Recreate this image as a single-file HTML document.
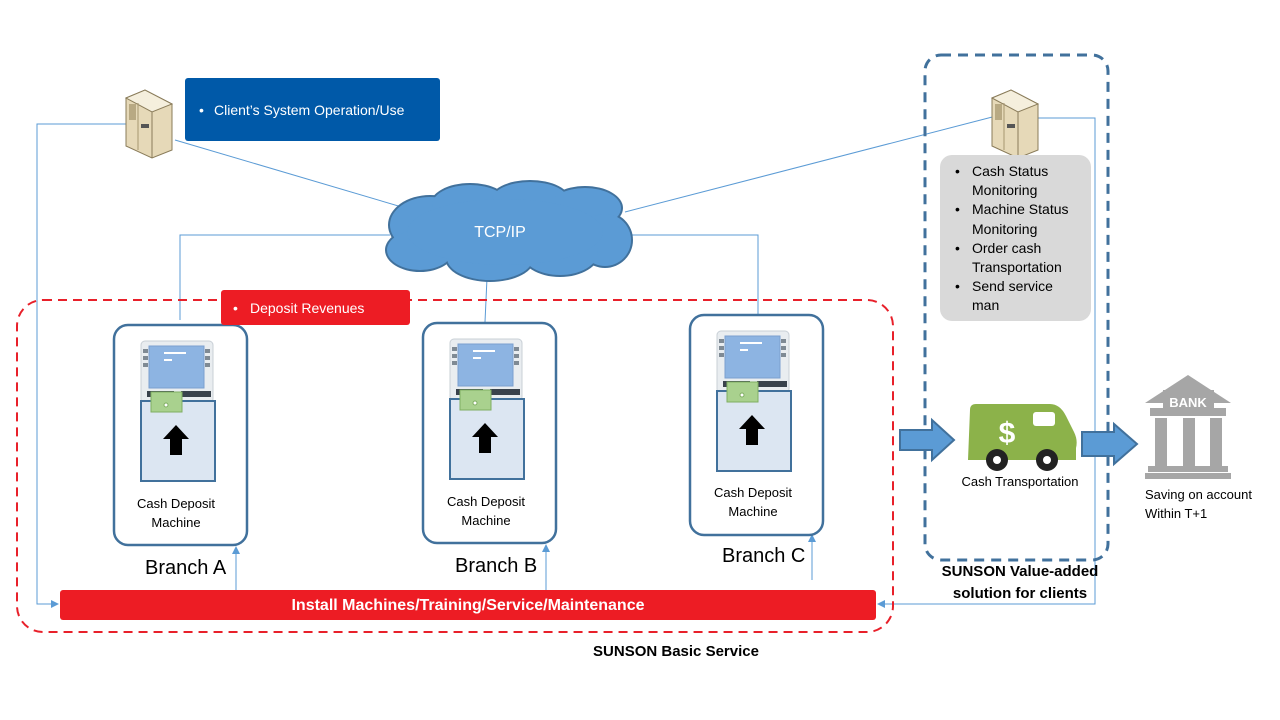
<!DOCTYPE html>
<html><head><meta charset="utf-8"><style>
html,body{margin:0;padding:0;background:#fff}
svg{display:block;font-family:"Liberation Sans",sans-serif}
</style></head><body>
<svg width="1280" height="720" viewBox="0 0 1280 720" xmlns="http://www.w3.org/2000/svg">
<defs>
<marker id="ah" markerWidth="8" markerHeight="8" refX="7" refY="4" orient="auto" markerUnits="userSpaceOnUse"><path d="M0,0 L8,4 L0,8 z" fill="#5b9bd5"/></marker>
<g id="atm">
  <rect x="0" y="0" width="133" height="220" rx="14" fill="#fff" stroke="#41719c" stroke-width="2.5"/>
  <rect x="27" y="16" width="72" height="62" rx="4" fill="#e9edf0" stroke="#c9d0d6"/>
  <rect x="35" y="21" width="55" height="42" fill="#8db4e2" stroke="#7aa0cf"/>
  <line x1="50" y1="28" x2="72" y2="28" stroke="#fff" stroke-width="2"/>
  <line x1="50" y1="35" x2="58" y2="35" stroke="#fff" stroke-width="2"/>
  <rect x="29" y="24" width="5" height="4" fill="#7f8a94"/><rect x="29" y="31" width="5" height="4" fill="#7f8a94"/><rect x="29" y="38" width="5" height="4" fill="#7f8a94"/>
  <rect x="91" y="24" width="5" height="4" fill="#7f8a94"/><rect x="91" y="31" width="5" height="4" fill="#7f8a94"/><rect x="91" y="38" width="5" height="4" fill="#7f8a94"/>
  <rect x="33" y="66" width="27" height="6" fill="#39424c"/><rect x="67" y="66" width="30" height="6" fill="#39424c"/>
  <rect x="27" y="76" width="74" height="80" fill="#dce6f2" stroke="#41719c" stroke-width="2"/>
  <rect x="37" y="67" width="31" height="20" fill="#a9d18e" stroke="#7fae62"/>
  <circle cx="52" cy="80" r="2" fill="#fff" stroke="#7fae62"/>
  <path d="M62,100 L75,114 L68,114 L68,130 L56,130 L56,114 L49,114 z" fill="#000"/>
</g>
</defs>

<g stroke="#5b9bd5" stroke-width="1" fill="none">
  <line x1="175" y1="140" x2="412" y2="210"/>
  <line x1="1000" y1="115" x2="625" y2="212"/>
  <polyline points="390,235 180,235 180,320"/>
  <polyline points="600,235 758,235 758,315"/>
  <line x1="487" y1="278" x2="485" y2="322"/>
  <polyline points="130,124 37,124 37,604 58,604" marker-end="url(#ah)"/>
  <polyline points="1022,118 1095,118 1095,604 878,604" marker-end="url(#ah)"/>
  <line x1="236" y1="590" x2="236" y2="547" marker-end="url(#ah)"/>
  <line x1="546" y1="590" x2="546" y2="545" marker-end="url(#ah)"/>
  <line x1="812" y1="580" x2="812" y2="535" marker-end="url(#ah)"/>
</g>

<rect x="17" y="300" width="876" height="332" rx="26" fill="none" stroke="#e8202a" stroke-width="2" stroke-dasharray="9,6"/>
<rect x="925" y="55" width="183" height="505" rx="16" fill="none" stroke="#41719c" stroke-width="3" stroke-dasharray="10,7"/>

<g>
  <g fill="#41719c">
    <ellipse cx="430" cy="225" rx="42" ry="30"/><ellipse cx="470" cy="205" rx="40" ry="22"/><ellipse cx="530" cy="200" rx="40" ry="20"/>
    <ellipse cx="585" cy="208" rx="38" ry="22"/><ellipse cx="605" cy="240" rx="28" ry="28"/><ellipse cx="560" cy="252" rx="40" ry="25"/>
    <ellipse cx="490" cy="258" rx="45" ry="24"/><ellipse cx="420" cy="250" rx="35" ry="22"/><ellipse cx="505" cy="232" rx="100" ry="35"/>
  </g>
  <g fill="#5b9bd5">
    <ellipse cx="430" cy="225" rx="40" ry="28"/><ellipse cx="470" cy="205" rx="38" ry="20"/><ellipse cx="530" cy="200" rx="38" ry="18"/>
    <ellipse cx="585" cy="208" rx="36" ry="20"/><ellipse cx="605" cy="240" rx="26" ry="26"/><ellipse cx="560" cy="252" rx="38" ry="23"/>
    <ellipse cx="490" cy="258" rx="43" ry="22"/><ellipse cx="420" cy="250" rx="33" ry="20"/><ellipse cx="505" cy="232" rx="98" ry="33"/>
  </g>
  <text x="500" y="237" font-size="16" fill="#fff" text-anchor="middle">TCP/IP</text>
</g>

<g id="srv">
<path d="M126,98 L145,90 L172,104 L172,150 L152,158 L126,146 z" fill="#e6d9b8" stroke="#8a7c5a"/>
<path d="M126,98 L145,90 L172,104 L152,112 z" fill="#f5efdd" stroke="#8a7c5a"/>
<line x1="152" y1="112" x2="152" y2="158" stroke="#8a7c5a"/>
<line x1="138" y1="103" x2="138" y2="150" stroke="#a69670"/>
<rect x="129" y="104" width="7" height="16" fill="#b8a983"/>
<rect x="141" y="124" width="8" height="4" fill="#555"/>
</g>
<use href="#srv" transform="translate(866,0)"/>

<rect x="185" y="78" width="255" height="63" rx="3" fill="#0059a8"/>
<text x="199" y="115" font-size="14" fill="#fff">•</text>
<text x="214" y="115" font-size="14" fill="#fff">Client’s System Operation/Use</text>

<rect x="940" y="155" width="151" height="166" rx="12" fill="#d9d9d9"/>
<g font-size="14" fill="#000">
  <text x="955" y="176">•</text><text x="972" y="176">Cash Status</text><text x="972" y="195">Monitoring</text>
  <text x="955" y="214">•</text><text x="972" y="214">Machine Status</text><text x="972" y="234">Monitoring</text>
  <text x="955" y="253">•</text><text x="972" y="253">Order cash</text><text x="972" y="272">Transportation</text>
  <text x="955" y="291">•</text><text x="972" y="291">Send service</text><text x="972" y="310">man</text>
</g>

<use href="#atm" transform="translate(114,325)"/>
<use href="#atm" transform="translate(423,323)"/>
<use href="#atm" transform="translate(690,315)"/>
<g font-size="13" text-anchor="middle" fill="#000">
  <text x="176" y="508">Cash Deposit</text><text x="176" y="527">Machine</text>
  <text x="486" y="506">Cash Deposit</text><text x="486" y="525">Machine</text>
  <text x="753" y="497">Cash Deposit</text><text x="753" y="516">Machine</text>
</g>
<g font-size="20" fill="#000">
  <text x="145" y="574">Branch A</text><text x="455" y="572">Branch B</text><text x="722" y="562">Branch C</text>
</g>

<rect x="221" y="290" width="189" height="35" rx="3" fill="#ed1c24"/>
<text x="233" y="313" font-size="14" fill="#fff">•</text>
<text x="250" y="313" font-size="14" fill="#fff">Deposit Revenues</text>

<rect x="60" y="590" width="816" height="30" rx="3" fill="#ed1c24"/>
<text x="468" y="610" font-size="16" font-weight="bold" fill="#fff" text-anchor="middle">Install Machines/Training/Service/Maintenance</text>

<path d="M900,430 L932,430 L932,420 L954,440 L932,460 L932,450 L900,450 z" fill="#5b9bd5" stroke="#41719c" stroke-width="2"/>
<path d="M1082,432 L1114,432 L1114,424 L1137,444 L1114,464 L1114,456 L1082,456 z" fill="#5b9bd5" stroke="#41719c" stroke-width="2"/>

<path d="M970,410 Q970,404 976,404 L1050,404 Q1060,404 1066,416 L1074,432 Q1078,440 1076,448 L1076,460 L968,460 z" fill="#8cb24a"/>
<rect x="1033" y="412" width="22" height="14" rx="3" fill="#fff"/>
<text x="1007" y="443" font-size="30" font-weight="bold" fill="#fff" text-anchor="middle">$</text>
<circle cx="997" cy="460" r="11" fill="#222"/><circle cx="997" cy="460" r="4" fill="#fff"/>
<circle cx="1047" cy="460" r="11" fill="#222"/><circle cx="1047" cy="460" r="4" fill="#fff"/>
<text x="1020" y="486" font-size="13" text-anchor="middle" fill="#000">Cash Transportation</text>

<g fill="#a6a6a6">
  <path d="M1145,403 L1188,375 L1231,403 z"/>
  <rect x="1163" y="390" width="51" height="20" fill="#a6a6a6"/>
  <rect x="1150" y="408" width="76" height="8"/>
  <rect x="1155" y="418" width="12" height="48"/><rect x="1183" y="418" width="12" height="48"/><rect x="1210" y="418" width="12" height="48"/>
  <rect x="1148" y="466" width="80" height="6"/><rect x="1145" y="473" width="86" height="6"/>
</g>
<text x="1188" y="407" font-size="13" font-weight="bold" fill="#fff" text-anchor="middle">BANK</text>
<text x="1145" y="499" font-size="13" fill="#000">Saving on account</text>
<text x="1145" y="518" font-size="13" fill="#000">Within T+1</text>

<text x="676" y="656" font-size="15" font-weight="bold" text-anchor="middle" fill="#000">SUNSON Basic Service</text>
<text x="1020" y="576" font-size="15" font-weight="bold" text-anchor="middle" fill="#000">SUNSON Value-added</text>
<text x="1020" y="598" font-size="15" font-weight="bold" text-anchor="middle" fill="#000">solution for clients</text>
</svg>
</body></html>
